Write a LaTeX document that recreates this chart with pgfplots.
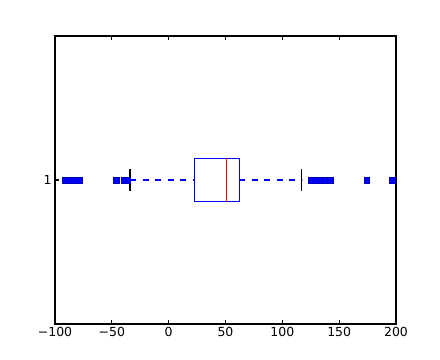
\documentclass[border=0pt]{standalone}
\usepackage{pgfplots}
\pgfplotsset{compat=1.18}
\usepackage{fontspec}
\setmainfont{DejaVu Sans}
\begin{document}
\begin{tikzpicture}
\useasboundingbox (0,0) rectangle (440bp,360bp);
\begin{axis}[
  at={(55bp,36bp)}, anchor=south west,
  scale only axis, width=341bp, height=288bp,
  xmin=-100, xmax=200, ymin=0.5, ymax=1.5,
  xtick={-100,-50,0,50,100,150,200},
  xticklabels={−100,−50,0,50,100,150,200},
  ytick={1}, yticklabels={1},
  tick align=inside, tick pos=both,
  major tick length=4.4bp,
  axis line style={black, line width=1.1bp},
  tick style={black, line width=1.1bp},
  ticklabel style={font=\fontsize{12.5}{15}\selectfont},
  clip marker paths=true,
]
% box
\addplot[blue, line width=1.1bp] coordinates {(23,0.925) (62,0.925) (62,1.075) (23,1.075) (23,0.925)};
% median
\addplot[red, line width=1.1bp] coordinates {(50.5,0.925) (50.5,1.075)};
% whiskers
\addplot[blue, line width=1.1bp, dash pattern=on 6bp off 6.5bp] coordinates {(-34,1) (23,1)};
\addplot[blue, line width=1.1bp, dash pattern=on 6bp off 6.5bp] coordinates {(62,1) (117,1)};
% caps
\addplot[black, line width=1.1bp] coordinates {(-34,0.9625) (-34,1.0375)};
\addplot[black, line width=1.1bp] coordinates {(117,0.9625) (117,1.0375)};
% outliers
\addplot[only marks, mark=square*, mark size=2.9bp, mark options={fill=blue, draw=blue!75!black, line width=0.5bp}]
  coordinates {(-91,1) (-87,1) (-83,1) (-79,1) (-46,1) (-39,1) (-36,1)
               (125,1) (129.5,1) (134,1) (138,1) (142.5,1) (174.2,1) (197,1)};
\end{axis}
\end{tikzpicture}
\end{document}
